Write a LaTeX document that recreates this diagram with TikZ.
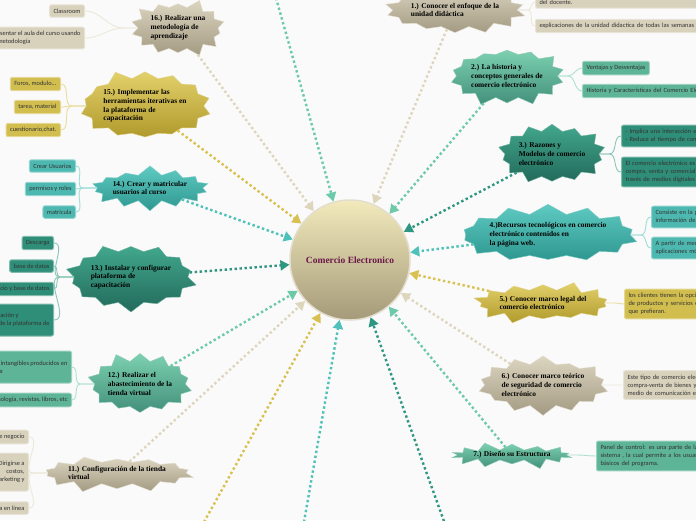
\documentclass[tikz,border=0pt]{standalone}
\usepackage{fontspec}
\setmainfont{Carlito}
\newfontfamily\starfnt{Liberation Serif}
\usetikzlibrary{shapes.symbols,arrows.meta}
\definecolor{bgT}{HTML}{DCD5C0}\definecolor{bgB}{HTML}{A39A82}\definecolor{bgX}{HTML}{D8D1BC}\definecolor{bgL}{HTML}{DDD6BC}
\definecolor{ylT}{HTML}{E2D06A}\definecolor{ylB}{HTML}{B09A2C}\definecolor{ylX}{HTML}{D2BE4E}\definecolor{ylL}{HTML}{D9C151}
\definecolor{cyT}{HTML}{5FCAC2}\definecolor{cyB}{HTML}{2E9890}\definecolor{cyX}{HTML}{4CB8B0}\definecolor{cyL}{HTML}{4EC1B9}
\definecolor{tlT}{HTML}{42A78C}\definecolor{tlB}{HTML}{226A5B}\definecolor{tlX}{HTML}{2F8E78}\definecolor{tlL}{HTML}{2E9681}
\definecolor{grT}{HTML}{7CD0B0}\definecolor{grB}{HTML}{43907B}\definecolor{grX}{HTML}{5DB496}\definecolor{grL}{HTML}{6CCAA8}
\definecolor{ctext}{HTML}{6A1848}
\tikzset{
 star/.style={starburst, starburst points=14, starburst point height=10pt, random starburst=#1, align=left,
   font=\starfnt\fontsize{7.4}{8.8}\selectfont\bfseries, inner sep=0pt, text=black},
 sbg/.style={star=#1, top color=bgT, bottom color=bgB, draw=bgX!70!white},
 syl/.style={star=#1, top color=ylT, bottom color=ylB, draw=ylX!70!white},
 scy/.style={star=#1, top color=cyT, bottom color=cyB, draw=cyX!70!white},
 stl/.style={star=#1, top color=tlT, bottom color=tlB, draw=tlX!70!white},
 sgr/.style={star=#1, top color=grT, bottom color=grB, draw=grX!70!white},
 box/.style={rectangle, rounded corners=2pt, align=left, font=\fontsize{6.4}{8.2}\selectfont, inner xsep=4pt, inner ysep=4pt, text=black!80, line width=1pt},
 bbg/.style={box, fill=bgX, draw=bgX!60!white},
 byl/.style={box, fill=ylX, draw=ylX!60!white},
 bcy/.style={box, fill=cyX, draw=cyX!60!white},
 btl/.style={box, fill=tlX, draw=tlX!60!white},
 bgr/.style={box, fill=grX, draw=grX!60!white},
 link/.style={line width=2.4pt, dash pattern=on 2.4pt off 2.6pt, -{Triangle[length=9pt,width=10pt]}, color=#1},
 cl/.style={line width=0.9pt, color=#1!55!white}
}
\begin{document}
\begin{tikzpicture}[x=1pt,y=-1pt]
\useasboundingbox (0,0) rectangle (696,520);
\clip (0,0) rectangle (696,520);
\fill[white!98!black] (0,0) rectangle (696,520);
% centre
\node[circle, minimum size=120pt, top color=ylT!45!white, bottom color=bgB!90!ylB, draw=bgT!80!white, line width=1.5pt,
  font=\starfnt\fontsize{9.5}{10}\selectfont\bfseries, text=ctext] (c) at (350,260) {Comercio Electronico};
% left nodes
\node[sbg=3, minimum width=100pt, minimum height=62pt] (n16) at (178,28) {16.) Realizar una\\metodología de\\aprendizaje};
\node[syl=5, minimum width=130pt, minimum height=76pt] (n15) at (145,106) {15.) Implementar las\\herramientas iterativas en\\la plataforma de\\capacitación};
\node[scy=7, minimum width=112pt, minimum height=46pt] (n14) at (150,188) {14.) Crear y matricular\\usuarios al curso};
\node[stl=9, minimum width=110pt, minimum height=72pt] (n13) at (131,277) {13.) Instalar y configurar\\plataforma de\\capacitación};
\node[sgr=11, minimum width=102pt, minimum height=66pt] (n12) at (140,384) {12.) Realizar el\\abastecimiento de la\\tienda virtual};
\node[sbg=13, minimum width=134pt, minimum height=42pt] (n11) at (117,473) {11.) Configuración de la tienda\\virtual};
% right nodes
\node[sbg=4, minimum width=120pt, minimum height=54pt] (n1) at (455,10) {1.) Conocer el enfoque de la\\unidad didáctica};
\node[sgr=6, minimum width=118pt, minimum height=64pt] (n2) at (507,76) {2.)  La historia y\\conceptos generales de\\comercio electrónico};
\node[stl=8, minimum width=100pt, minimum height=66pt] (n3) at (552,154) {3.) Razones y\\Modelos de comercio\\electrónico};
\node[scy=10, minimum width=160pt, minimum height=62pt] (n4) at (548,235) {4.)Recursos tecnológicos en comercio\\electrónico contenidos en\\la página web.};
\node[syl=12, minimum width=122pt, minimum height=46pt] (n5) at (543,303) {5.) Conocer marco legal del\\comercio electrónico};
\node[sbg=14, minimum width=116pt, minimum height=62pt] (n6) at (543,385) {6.) Conocer marco teórico\\de seguridad de comercio\\electrónico};
\node[sgr=15, minimum width=114pt, minimum height=30pt] (n7) at (512,455) {7.) Diseño su Estructura};
\node[stl=16, minimum width=110pt, minimum height=40pt] (n8) at (450,538) {};
\coordinate (t0) at (276,-2);
\coordinate (b1) at (204,522);
\coordinate (b2) at (304,522);
% children left
\node[bbg, anchor=east] (a16a) at (85,11) {Classroom};
\node[bbg, anchor=east] (a16b) at (85,38) {Presentar el aula del curso usando\\la metodología};
\node[byl, anchor=east] (a15a) at (61,84) {Foros, modulo...};
\node[byl, anchor=east] (a15b) at (61,107) {tarea, material};
\node[byl, anchor=east] (a15c) at (61,130) {cuestionario,chat.};
\node[bcy, anchor=east] (a14a) at (76,166) {Crear Usuarios};
\node[bcy, anchor=east] (a14b) at (76,189) {permisos y roles};
\node[bcy, anchor=east] (a14c) at (76,212) {matricula};
\node[btl, anchor=east] (a13a) at (54,243) {Descarga};
\node[btl, anchor=east] (a13b) at (54,266) {base de  datos};
\node[btl, anchor=east] (a13c) at (54,289) {Servidor web, servicio y base de datos};
\node[btl, anchor=east, minimum height=32pt] (a13d) at (54,320) {Pasos de instalación y\\configuración de la plataforma de};
\node[bgr, anchor=east, minimum height=32pt] (a12a) at (72,367) {Bienes tangibles e intangibles producidos en\\de manera online a};
\node[bgr, anchor=east] (a12b) at (72,400) {Productos de tecnología, revistas, libros, etc};
\node[bbg, anchor=east] (a11a) at (29,437) {Idea de negocio};
\node[bbg, anchor=east, align=right, minimum height=38pt] (a11b) at (29,472) {Dirigirse a\\costos,\\marketing y};
\node[bbg, anchor=east] (a11c) at (29,508) {Tienda en línea};
% children right
\node[bbg, anchor=west, text width=200pt] (a1a) at (535,2) {del docente.};
\node[bbg, anchor=west, text width=200pt] (a1b) at (535,26) {explicaciones de la unidad didactica  de todas las semanas};
\node[bgr, anchor=west] (a2a) at (582,68) {Ventajas y Desventajas};
\node[bgr, anchor=west, text width=160pt] (a2b) at (582,91) {Historia y Características del Comercio Electrónico};
\node[btl, anchor=west, text width=150pt] (a3a) at (621,136) {- Implica una interacción entre personas\\- Reduce el tiempo de compra};
\node[btl, anchor=west, text width=160pt] (a3b) at (621,172) {El comercio electrónico es la actividad de\\compra, venta y comercialización de bienes a\\través de medios digitales};
\node[bcy, anchor=west, text width=120pt] (a4a) at (651,217) {Consiste en la publicación de\\información de la empresa};
\node[bcy, anchor=west, text width=120pt] (a4b) at (651,248) {A partir de medios web y\\aplicaciones móviles};
\node[byl, anchor=west, text width=150pt] (a5a) at (624,304) { los clientes tienen la opción de compra\\de productos y servicios en la plataforma\\que prefieran.};
\node[bbg, anchor=west, text width=150pt] (a6a) at (623,385) {Este tipo de comercio electrónico es la\\compra-venta de bienes y servicios por\\medio de comunicación electrónica};
\node[bgr, anchor=west, text width=170pt] (a7a) at (596,456) {Panel de control: es una parte de la interfaz del\\sistema , la cual permite a los usuarios ajustes\\básicos del programa.};
% child connectors
\foreach \n/\c/\k in {a16a/n16/bgL,a16b/n16/bgL,a15a/n15/ylL,a15b/n15/ylL,a15c/n15/ylL,a14a/n14/cyL,a14b/n14/cyL,a14c/n14/cyL,
  a13a/n13/tlL,a13b/n13/tlL,a13c/n13/tlL,a13d/n13/tlL,a12a/n12/grL,a12b/n12/grL,a11a/n11/bgL,a11b/n11/bgL,a11c/n11/bgL}
  \draw[cl=\k] (\c.west) -- ++(-14,0) to[out=180,in=0] (\n.east);
\foreach \n/\c/\k in {a1a/n1/bgL,a1b/n1/bgL,a2a/n2/grL,a2b/n2/grL,a3a/n3/tlL,a3b/n3/tlL,a4a/n4/cyL,a4b/n4/cyL,a5a/n5/ylL,a6a/n6/bgL,a7a/n7/grL}
  \draw[cl=\k] (\c.east) -- ++(10,0) to[out=0,in=180] (\n.west);
% links to centre
\draw[link=bgL] (n16) -- (c);
\draw[link=ylL] (n15) -- (c);
\draw[link=cyL] (n14) -- (c);
\draw[link=tlL] (n13) -- (c);
\draw[link=grL] (n12) -- (c);
\draw[link=bgL] (n11) -- (c);
\draw[link=grL] (t0) -- (c);
\draw[link=bgL] (n1) -- (c);
\draw[link=grL] (n2) -- (c);
\draw[link=tlL] (n3) -- (c);
\draw[link=cyL] (n4) -- (c);
\draw[link=ylL] (n5) -- (c);
\draw[link=bgL] (n6) -- (c);
\draw[link=grL] (n7) -- (c);
\draw[link=tlL] (n8) -- (c);
\draw[link=cyL] (b2) -- (c);
\draw[link=ylL] (b1) -- (c);
\end{tikzpicture}
\end{document}
